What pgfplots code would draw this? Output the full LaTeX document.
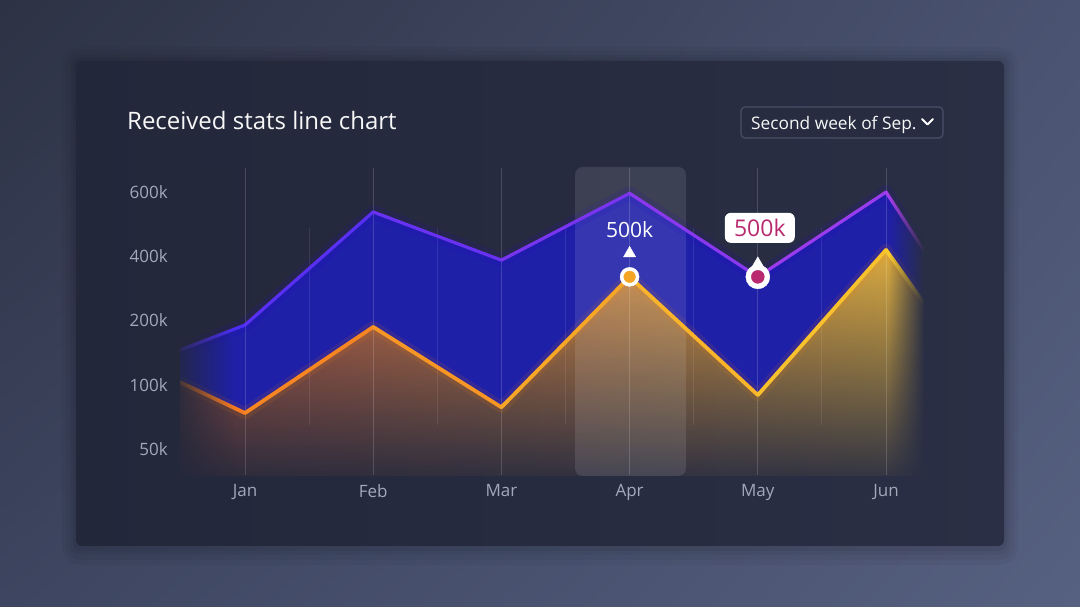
\documentclass[border=0pt]{standalone}
\usepackage{fontspec}
\setmainfont{Open Sans}
\usepackage{pgfplots}
\pgfplotsset{compat=1.18}
\usetikzlibrary{fadings,shadings}
\definecolor{bgUL}{HTML}{2D3244}
\definecolor{bgUR}{HTML}{4A5371}
\definecolor{bgLL}{HTML}{3D4560}
\definecolor{bgLR}{HTML}{566080}
\definecolor{cardL}{HTML}{23273A}
\definecolor{cardR}{HTML}{2A2F45}
\definecolor{edgeL}{HTML}{24283B}
\definecolor{edgeR}{HTML}{292E44}
\definecolor{tickc}{HTML}{A3A8BA}
\definecolor{bluefill}{HTML}{1F20A8}
\definecolor{oL}{HTML}{C65C48}
\definecolor{oR}{HTML}{DDB040}
\definecolor{mag}{HTML}{B8296F}
\definecolor{aprc}{HTML}{F5A524}
\definecolor{ddborder}{HTML}{4A5068}
\definecolor{ddfill}{HTML}{272C41}
\tikzfading[name=ofade, top color=transparent!0, middle color=transparent!22, bottom color=transparent!94]
\tikzfading[name=fadeLR, left color=transparent!0, right color=transparent!100]
\tikzfading[name=fadeRL, left color=transparent!100, right color=transparent!0]
\pgfplotsset{
  colormap={purp}{rgb255=(72,44,246) rgb255=(120,52,240) rgb255=(168,62,236)},
  colormap={oran}{rgb255=(246,118,32) rgb255=(248,165,38) rgb255=(250,205,46)},
}
\begin{document}
\begin{tikzpicture}[x=1pt,y=1pt]
% background
\shade[upper left=bgUL, upper right=bgUR, lower left=bgLL, lower right=bgLR] (0,0) rectangle (1080,607);
% soft shadow
\fill[black, opacity=0.035, rounded corners=18pt] (62,42) rectangle (1018,560);
\fill[black, opacity=0.035, rounded corners=14pt] (66,47) rectangle (1014,556);
\fill[black, opacity=0.04, rounded corners=10pt] (70,52) rectangle (1010,552);
\fill[black, opacity=0.05, rounded corners=8pt] (73,56) rectangle (1007,549);
% card
\shade[left color=cardL, right color=cardR, rounded corners=6pt] (76,61) rectangle (1004,546);
% title
\node[anchor=base west, inner sep=0, font=\fontsize{24}{28}\selectfont, text=white!94!gray] at (127,477) {Received stats line chart};
% dropdown
\draw[draw=ddborder, fill=ddfill, rounded corners=4pt, line width=1.2pt] (741,469) rectangle (943,500);
\node[anchor=base west, inner sep=0, font=\fontsize{17.3}{20}\selectfont, text=white!94!gray] at (751,477) {Second week of Sep.};
\draw[white, line width=1.8pt, line cap=round, line join=round] (922,488) -- (927.5,482.5) -- (933,488);

\begin{axis}[
  at={(180pt,131pt)}, anchor=south west, scale only axis,
  width=750pt, height=309pt,
  xmin=-0.507, xmax=5.343, ymin=-0.42, ymax=4.39,
  axis line style={draw=none}, major tick length=0pt,
  xtick={0,1,2,3,4,5}, xticklabels={Jan,Feb,Mar,Apr,May,Jun},
  ytick={0,1,2,3,4}, yticklabels={50k,100k,200k,400k,600k},
  ticklabel style={font=\fontsize{17}{20}\selectfont, text=tickc},
  yticklabel style={anchor=east, inner sep=0pt, xshift=-12pt},
  xticklabel style={anchor=north, inner sep=0pt, yshift=-8pt},
  point meta min=-0.507, point meta max=5.343,
]
% blue fill between lines
\addplot[draw=none, fill=bluefill] coordinates {
  (-0.507,1.54) (0,1.93) (1,3.69) (2,2.94) (3,3.98) (4,2.68) (5,4.00) (5.30,3.08)
  (5.30,2.26) (5,3.10) (4,0.84) (3,2.68) (2,0.65) (1,1.90) (0,0.56) (-0.507,1.04)
} -- cycle;
% orange area
\addplot[draw=none, left color=oL, right color=oR, path fading=ofade] coordinates {
  (-0.507,1.04) (0,0.56) (1,1.90) (2,0.65) (3,2.68) (4,0.84) (5,3.10) (5.30,2.26)
  (5.30,-0.42) (-0.507,-0.42)
} -- cycle;
% highlight
\fill[white, opacity=0.10, rounded corners=8pt] (axis cs:2.574,-0.42) rectangle (axis cs:3.44,4.39);
% grid lines
\pgfplotsinvokeforeach{0,1,2,3,4,5}{
  \draw[white, opacity=0.16, line width=1pt] (axis cs:#1,-0.40) -- (axis cs:#1,4.37);
}
\pgfplotsinvokeforeach{0.5,1.5,2.5,3.5,4.5}{
  \draw[white, opacity=0.09, line width=1pt] (axis cs:#1,0.37) -- (axis cs:#1,3.44);
}
% glows
\addplot[color=blue!70!violet, line width=14pt, opacity=0.10, line join=round] coordinates {
  (-0.507,1.54) (0,1.93) (1,3.69) (2,2.94) (3,3.98) (4,2.68) (5,4.00) (5.30,3.08)};
\addplot[color=orange, line width=12pt, opacity=0.10, line join=round] coordinates {
  (-0.507,1.04) (0,0.56) (1,1.90) (2,0.65) (3,2.68) (4,0.84) (5,3.10) (5.30,2.26)};
% lines
\addplot[mesh, colormap name=purp, point meta=x, line width=3.2pt, line cap=round, line join=round] coordinates {
  (-0.507,1.54) (0,1.93) (1,3.69) (2,2.94) (3,3.98) (4,2.68) (5,4.00) (5.30,3.08)};
\addplot[mesh, colormap name=oran, point meta=x, line width=3.8pt, line cap=round, line join=round] coordinates {
  (-0.507,1.04) (0,0.56) (1,1.90) (2,0.65) (3,2.68) (4,0.84) (5,3.10) (5.30,2.26)};
% edge fades
\fill[edgeL, path fading=fadeLR] (axis cs:-0.6,-0.5) rectangle (axis cs:-0.08,4.5);
\fill[edgeR, path fading=fadeRL] (axis cs:5.02,-0.5) rectangle (axis cs:5.30,4.5);
\fill[edgeR] (axis cs:5.295,-0.5) rectangle (axis cs:5.4,4.5);
% Apr marker
\addplot[only marks, mark=*, mark size=9.5pt, color=white] coordinates {(3,2.68)};
\addplot[only marks, mark=*, mark size=5.8pt, color=aprc] coordinates {(3,2.68)};
\addplot[only marks, mark=triangle*, mark size=7pt, color=white, every mark/.append style={yshift=23.5pt}] coordinates {(3,2.68)};
\node[font=\fontsize{21}{24}\selectfont, text=white, inner sep=0] at (axis cs:3,2.68) [yshift=47pt] {500k};
% May marker
\addplot[only marks, mark=triangle*, mark size=8pt, color=white, every mark/.append style={yshift=12pt}] coordinates {(4,2.68)};
\addplot[only marks, mark=*, mark size=12pt, color=white] coordinates {(4,2.68)};
\addplot[only marks, mark=*, mark size=6.5pt, color=mag] coordinates {(4,2.68)};
\node[fill=white, rounded corners=6pt, text=mag, font=\fontsize{23}{26}\selectfont, minimum width=70pt, minimum height=30pt, inner sep=0] at (axis cs:4,2.68) [yshift=49pt, xshift=2pt] {500k};
\end{axis}
\pgfresetboundingbox
\path[use as bounding box] (0,0) rectangle (1080,607);
\end{tikzpicture}
\end{document}
